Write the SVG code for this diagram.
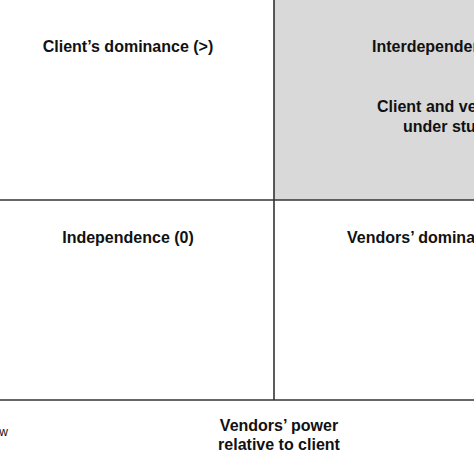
<svg xmlns="http://www.w3.org/2000/svg" width="474" height="474" viewBox="0 0 474 474">
<style>
.t{font-family:"Liberation Sans",Arial,sans-serif;font-weight:bold;font-size:16px;fill:#111}
.r{font-family:"Liberation Sans",Arial,sans-serif;font-size:12px;fill:#111}
.ln{stroke:#333;stroke-width:1.6;fill:none}
</style>
<rect width="474" height="474" fill="#fff"/>
<g id="q-interdependence">
<rect x="274" y="0" width="200" height="200" fill="#d9d9d9"/>
<text class="t" x="372" y="52">Interdependence</text>
<text class="t" x="377" y="112">Client and vendors</text>
<text class="t" x="403" y="132">under study</text>
</g>
<g id="q-client">
<text class="t" x="128" y="52" text-anchor="middle">Client’s dominance (&gt;)</text>
</g>
<g id="q-independence">
<text class="t" x="128" y="243" text-anchor="middle">Independence (0)</text>
</g>
<g id="q-vendors">
<text class="t" x="347" y="243">Vendors’ dominance</text>
</g>
<g id="axis-labels">
<text class="t" x="279" y="431" text-anchor="middle">Vendors’ power</text>
<text class="t" x="279" y="450" text-anchor="middle">relative to client</text>
<text class="r" x="8" y="436" text-anchor="end">Low</text>
</g>
<g id="connectors">
<line class="ln" x1="274" y1="0" x2="274" y2="400"/>
<line class="ln" x1="0" y1="200" x2="474" y2="200"/>
<line class="ln" x1="0" y1="400" x2="474" y2="400"/>
</g>
</svg>
